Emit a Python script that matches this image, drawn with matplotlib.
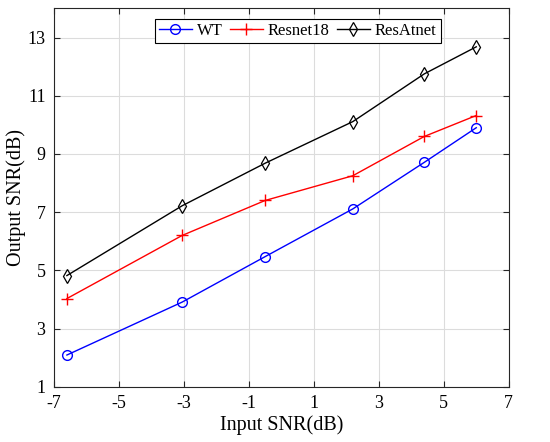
import matplotlib
matplotlib.use("Agg")
import matplotlib.pyplot as plt

plt.rcParams['font.family'] = ['Liberation Serif', 'DejaVu Serif']
plt.rcParams['axes.unicode_minus'] = False

input_snr = [-6.6, -3.05, -0.5, 2.2, 4.4, 6.0]
wt = [2.09, 3.91, 5.47, 7.11, 8.71, 9.9]
resnet18 = [4.03, 6.2, 7.4, 8.25, 9.6, 10.32]
resatnet = [4.82, 7.22, 8.68, 10.11, 11.75, 12.68]

xticks = [-7, -5, -3, -1, 1, 3, 5, 7]
yticks = [1, 3, 5, 7, 9, 11, 13]

fig = plt.figure(figsize=(5.5, 4.42), dpi=100)
ax = fig.add_axes([0.098, 0.125, 0.827, 0.856])

ax.plot(input_snr, wt, 'o-', color='#0000ff', lw=1, ms=7, mfc='none', mew=1, label='WT')
ax.plot(input_snr, resnet18, '+-', color='#ff0000', lw=1, ms=9, mew=1, label='Resnet18')
ax.plot(input_snr, resatnet, 'd-', color='black', lw=1, ms=7.5, mfc='none', mew=0.9, label='ResAtnet')

ax.set_xlim(-7, 7)
ax.set_ylim(1, 14)
ax.set_xticks(xticks)
ax.set_yticks(yticks)
ax.tick_params(direction='in', top=True, right=True, labelsize=13, length=4,
               color='#262626', pad=6)
for s in ax.spines.values():
    s.set_color('#262626')
    s.set_linewidth(0.8)
ax.grid(True, color='#dcdcdc', lw=0.8)
ax.set_axisbelow(True)

ax.set_xlabel('Input SNR(dB)', fontsize=14.5, labelpad=2)
ax.set_ylabel('Output SNR(dB)', fontsize=14.5, labelpad=1)

leg = ax.legend(loc='upper center', ncol=3, fontsize=12, frameon=True, fancybox=False,
                edgecolor='black', framealpha=1, borderpad=0.25, handlelength=2.0,
                handletextpad=0.3, columnspacing=0.4, bbox_to_anchor=(0.536, 0.995))
leg.get_frame().set_linewidth(0.8)

fig.savefig('out.png', dpi=100)
